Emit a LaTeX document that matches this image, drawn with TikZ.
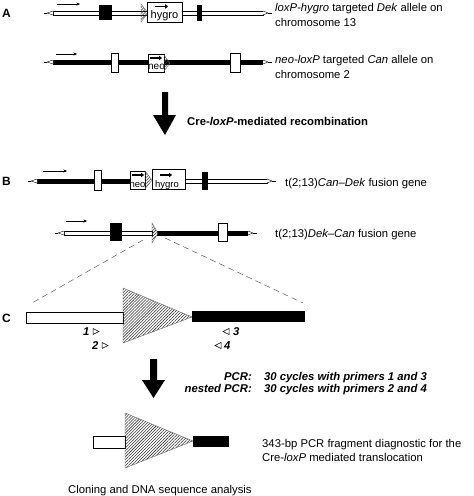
\documentclass[tikz,border=0pt]{standalone}
\usepackage{fontspec}
\setmainfont{Liberation Sans}
\usetikzlibrary{patterns,patterns.meta,arrows.meta}
\newcommand\geneLeft[2]{%
  \draw[line width=0.4pt, fill=white] (#1,#2-2) -- (#1-6,#2) -- (#1,#2+2);
  \draw[line width=0.4pt] (#1-6,#2) -- (#1-9,#2);}
\newcommand\geneRight[2]{%
  \draw[line width=0.4pt, fill=white] (#1,#2-2) -- (#1+5,#2) -- (#1,#2+2);
  \draw[line width=0.4pt] (#1+5,#2) -- (#1+9,#2);}
\begin{document}
\begin{tikzpicture}[x=1pt,y=-1pt,
  txt/.style={inner sep=0pt, anchor=base west, font=\fontsize{11.3}{13}\selectfont},
  txtr/.style={inner sep=0pt, anchor=base east, font=\fontsize{11.3}{13}\selectfont},
  boxtxt/.style={inner sep=0pt, anchor=base, font=\fontsize{10}{12}\selectfont},
  hollowbar/.style={draw=black, fill=white, line width=0.5pt},
  blackbar/.style={fill=black},
  whitebox/.style={draw=black, fill=white, line width=0.6pt},
  blackbox/.style={fill=black},
  loxp/.style={pattern={Lines[angle=45,distance=2.1pt,line width=0.55pt]}, pattern color=black!80, draw=black!60, line width=0.4pt},
  thinarrow/.style={-{Stealth[length=3.5pt,width=3pt]}, line width=0.5pt},
  boxarrow/.style={-{Triangle[length=3pt,width=4.5pt]}, line width=1.4pt},
  dashline/.style={dash pattern=on 6pt off 4pt, line width=0.5pt, draw=black!65},
  bigarrow/.style={fill=black},
  primer/.style={draw=black, line width=0.5pt, fill=white},
]
\useasboundingbox (0,0) rectangle (474,496);
\fill[white] (0,0) rectangle (474,496);

% ---------- Row A1 ----------
\node[txt, font=\fontsize{12}{14}\bfseries] (labA) at (2,17) {A};
\draw[hollowbar] (53,11) rectangle (263,15);
\geneLeft{53}{13}\geneRight{263}{13}
\draw[thinarrow] (57,4) -- (80,4);
\fill[blackbox] (99,5) rectangle (112,20);
\draw[loxp] (141,4) -- (148,13) -- (141,22) -- cycle;
\draw[whitebox] (147,2) rectangle (182,22);
\draw[boxarrow] (155,6.5) -- (168,6.5);
\node[boxtxt, font=\fontsize{11}{13}\selectfont] (hyA) at (164.5,18) {hygro};
\fill[blackbox] (197,5) rectangle (202,21);
\node[txt] (tA1) at (275,11) {\textit{loxP-hygro} targeted \textit{Dek} allele on};
\node[txt] (tA2) at (275,26) {chromosome 13};

% ---------- Row A2 ----------
\fill[blackbar] (53,59.5) rectangle (263,64.5);
\geneLeft{53}{62}\geneRight{263}{62}
\draw[thinarrow] (56,54) -- (77,54);
\draw[whitebox] (111,53) rectangle (118,72);
\draw[whitebox] (148,54) rectangle (164,72);
\draw[boxarrow] (150,58) -- (162,58);
\node[boxtxt, font=\fontsize{10}{12}\selectfont] (neoA) at (156.5,69.5) {neo};
\draw[loxp] (164,55) -- (170,63) -- (164,71) -- cycle;
\draw[whitebox] (230,53) rectangle (240,72);
\node[txt] (tA3) at (275,63) {\textit{neo-loxP} targeted \textit{Can} allele on};
\node[txt] (tA4) at (275,78) {chromosome 2};

% ---------- big arrow 1 ----------
\fill[bigarrow] (162,92) -- (168,92) -- (168,115) -- (176,115) -- (165,135) -- (153,115) -- (162,115) -- cycle;
\node[txt, font=\fontsize{11.3}{13}\bfseries] (cre) at (187,125) {Cre-\textit{loxP}-mediated recombination};

% ---------- Row B1 ----------
\node[txt, font=\fontsize{12}{14}\bfseries] (labB) at (2,185) {B};
\fill[blackbar] (37,178.5) rectangle (130,183.5);
\draw[hollowbar] (185,179) rectangle (267,183);
\geneLeft{37}{181}\geneRight{267}{181}
\draw[thinarrow] (43,171) -- (67,171);
\draw[whitebox] (94,170) rectangle (101,190);
\draw[whitebox] (130,171) rectangle (145,189);
\draw[boxarrow] (132,175) -- (144,175);
\node[boxtxt, font=\fontsize{9.5}{11}\selectfont] (neoB) at (137.5,187) {neo};
\draw[loxp] (145,171) -- (152,180) -- (145,189) -- cycle;
\draw[whitebox] (152,169) rectangle (185,189);
\draw[boxarrow] (160,175) -- (172,175);
\node[boxtxt, font=\fontsize{9.5}{11}\selectfont] (hyB) at (167,187) {hygro};
\fill[blackbox] (202,172) rectangle (208,190);
\node[txt] (tB1) at (285,186) {t(2;13)\textit{Can--Dek} fusion gene};

% ---------- Row B2 ----------
\draw[hollowbar] (64,231) rectangle (152,235);
\fill[blackbar] (157,230.5) rectangle (248,235.5);
\geneLeft{64}{233}\geneRight{248}{233}
\draw[thinarrow] (66,221) -- (87,221);
\fill[blackbox] (110,223) rectangle (122,241);
\draw[loxp] (152,223) -- (158,233) -- (152,243) -- cycle;
\draw[whitebox] (218,223) rectangle (227,241);
\node[txt] (tB2) at (275,237) {t(2;13)\textit{Dek--Can} fusion gene};

% ---------- dashed zoom lines ----------
\coordinate (dl1) at (143,240);
\coordinate (dl2) at (32,303);
\coordinate (dr1) at (165,238);
\coordinate (dr2) at (303,303);
\draw[dashline] (dl1) -- (dl2);
\draw[dashline] (dr1) -- (dr2);

% ---------- Row C ----------
\node[txt, font=\fontsize{12}{14}\bfseries] (labC) at (2,322) {C};
\draw[whitebox] (26,312) rectangle (123,323);
\draw[loxp] (123,288) -- (192,317) -- (123,343) -- cycle;
\fill[blackbar] (192,311) rectangle (305,322);
% primers
\node[txt, font=\fontsize{11.3}{13}\bfseries\itshape] (p1) at (83,335) {1};
\draw[primer] (93,328.5) -- (99,331.5) -- (93,334.5) -- cycle;
\node[txt, font=\fontsize{11.3}{13}\bfseries\itshape] (p2) at (92,349) {2};
\draw[primer] (102,342.5) -- (108,345.5) -- (102,348.5) -- cycle;
\draw[primer] (229,328.5) -- (223,331.5) -- (229,334.5) -- cycle;
\node[txt, font=\fontsize{11.3}{13}\bfseries\itshape] (p3) at (233,335) {3};
\draw[primer] (221,342.5) -- (215,345.5) -- (221,348.5) -- cycle;
\node[txt, font=\fontsize{11.3}{13}\bfseries\itshape] (p4) at (224,349) {4};

% ---------- big arrow 2 ----------
\fill[bigarrow] (150,359) -- (157,359) -- (157,380) -- (165,380) -- (153.5,398) -- (142,380) -- (150,380) -- cycle;
\node[txtr, font=\fontsize{11.3}{13}\bfseries\itshape] (pcr1) at (252,380) {PCR:};
\node[txtr, font=\fontsize{11.3}{13}\bfseries\itshape] (pcr2) at (252,392) {nested PCR:};
\node[txt, font=\fontsize{11.3}{13}\bfseries\itshape] (pcr3) at (264,380) {30 cycles with primers 1 and 3};
\node[txt, font=\fontsize{11.3}{13}\bfseries\itshape] (pcr4) at (264,392) {30 cycles with primers 2 and 4};

% ---------- bottom fragment ----------
\draw[whitebox] (93,436) rectangle (125,448);
\draw[loxp] (125,413) -- (193,441) -- (125,468) -- cycle;
\fill[blackbar] (193,436) rectangle (229,447);
\node[txt] (frag1) at (262,447) {343-bp PCR fragment diagnostic for the};
\node[txt] (frag2) at (262,461) {Cre-\textit{loxP} mediated translocation};
\node[txt] (clon) at (68,493) {Cloning and DNA sequence analysis};
\end{tikzpicture}
\end{document}
